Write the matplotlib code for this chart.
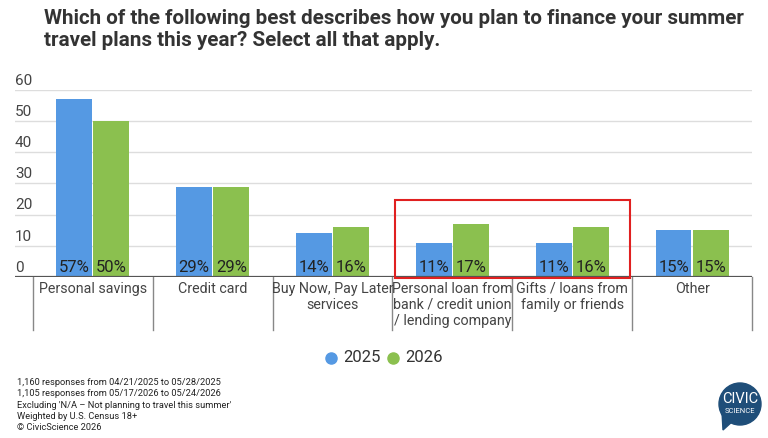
import numpy as np
import matplotlib.pyplot as plt
from matplotlib.patches import Rectangle, Ellipse, Polygon

plt.rcParams['font.family'] = ['Roboto', 'DejaVu Sans']

categories = ['Personal savings', 'Credit card', 'Buy Now, Pay Later\nservices',
              'Personal loan from\nbank / credit union\n/ lending company',
              'Gifts / loans from\nfamily or friends', 'Other']
vals_2025 = [57, 29, 14, 11, 11, 15]
vals_2026 = [50, 29, 16, 17, 16, 15]
yticks = [0, 10, 20, 30, 40, 50, 60]

blue = '#5599e3'
green = '#8bc04f'
W, H = 768, 438

fig = plt.figure(figsize=(7.68, 4.38), dpi=100)
ax = fig.add_axes([15 / W, (H - 277) / H, (752 - 15) / W, (277 - 90) / H])

x = np.arange(len(categories))
bw = 0.3
off = 0.155
ax.bar(x - off, vals_2025, bw, color=blue, zorder=3)
ax.bar(x + off, vals_2026, bw, color=green, zorder=3)

for i in range(len(categories)):
    ax.text(x[i] - off, 0.8, f'{vals_2025[i]}%', ha='center', va='bottom',
            fontsize=12, color='#222222', zorder=4)
    ax.text(x[i] + off, 0.8, f'{vals_2026[i]}%', ha='center', va='bottom',
            fontsize=12, color='#222222', zorder=4)

ax.set_xlim(-0.65, 5.5)
ax.set_ylim(0, 60)
for v in yticks[1:]:
    ax.axhline(v, color='#dddddd', lw=1, zorder=1)
for v in yticks:
    ax.text(-0.65, v + 0.7, str(v), ha='left', va='bottom', fontsize=11,
            color='#444444', clip_on=False)
ax.axhline(0, color='#555555', lw=1.6, zorder=5)

for s in ax.spines.values():
    s.set_visible(False)
ax.set_xticks([])
ax.set_yticks([])

# category separators and labels
for i in range(len(categories) + 1):
    ax.plot([i - 0.5, i - 0.5], [0, -17], color='#888888', lw=1, clip_on=False)
for i, c in enumerate(categories):
    ax.text(i, -1.5, c, ha='center', va='top', fontsize=10.3, color='#444444',
            linespacing=1.2, clip_on=False)

# highlight box
ax.add_patch(Rectangle((2.525, -0.3), 1.955, 25.0, fill=False, edgecolor='#e02020',
                       lw=1.5, clip_on=False, zorder=6))

fig.text(44 / W, 1 - 9 / H,
         'Which of the following best describes how you plan to finance your summer\n'
         'travel plans this year? Select all that apply.',
         ha='left', va='top', fontsize=14.9, fontweight='bold', color='#333333',
         linespacing=1.2)

# legend
leg_y = 1 - 358 / H
fig.lines.append(plt.Line2D([331 / W], [leg_y], marker='o', ms=8, color=blue,
                            transform=fig.transFigure))
fig.text(343 / W, leg_y, '2025', ha='left', va='center', fontsize=12, color='#333333')
fig.lines.append(plt.Line2D([393 / W], [leg_y], marker='o', ms=8, color=green,
                            transform=fig.transFigure))
fig.text(405 / W, leg_y, '2026', ha='left', va='center', fontsize=12, color='#333333')

notes = ('1,160 responses from 04/21/2025 to 05/28/2025\n'
         '1,105 responses from 05/17/2026 to 05/24/2026\n'
         "Excluding 'N/A \u2013 Not planning to travel this summer'\n"
         'Weighted by U.S. Census 18+\n'
         '\u00a9 CivicScience 2026')
fig.text(17 / W, 1 - 378 / H, notes, ha='left', va='top', fontsize=6.7,
         color='#222222', linespacing=1.33)

# logo
logo = '#1f4e79'
fig.patches.append(Ellipse((740 / W, 1 - 404 / H), 42 / W, 42 / H, color=logo,
                           transform=fig.transFigure, figure=fig))
fig.patches.append(Polygon([(722 / W, 1 - 412 / H), (734 / W, 1 - 420 / H),
                            (723 / W, 1 - 430 / H)], closed=True, color=logo,
                           transform=fig.transFigure, figure=fig))
fig.text(740 / W, 1 - 399 / H, 'CIVIC', ha='center', va='center', fontsize=10.5,
         color='white')
fig.text(740 / W, 1 - 411 / H, 'SCIENCE', ha='center', va='center', fontsize=5.5,
         color='white')

fig.savefig('out.png', dpi=100)
